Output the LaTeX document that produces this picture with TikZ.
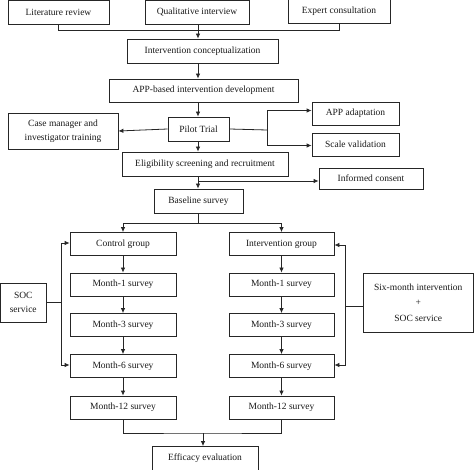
\documentclass[tikz,border=0pt]{standalone}
\usepackage{fontspec}
\setmainfont{Liberation Serif}
\usetikzlibrary{arrows.meta}
\begin{document}
\begin{tikzpicture}[x=1pt,y=-1pt,
  box/.style={draw=black!85,line width=0.8pt,inner sep=1pt,align=center,font=\fontsize{9.5}{14}\selectfont,text=black!90},
  arr/.style={line width=0.8pt,draw=black!85,-{Latex[length=5pt,width=4.5pt]}},
  ln/.style={line width=0.8pt,draw=black!85}]
\useasboundingbox (0,0) rectangle (474,470);
\node[box,minimum width=101pt,minimum height=24pt] (lit) at (58.5,12) {Literature review};
\node[box,minimum width=104pt,minimum height=24pt] (qual) at (197,12) {Qualitative interview};
\node[box,minimum width=102pt,minimum height=24pt] (exp) at (339,11.5) {Expert consultation};
\node[box,minimum width=151pt,minimum height=24pt] (con) at (202.5,51) {Intervention conceptualization};
\node[box,minimum width=189pt,minimum height=23pt] (app) at (203.5,90.5) {APP-based intervention development};
\node[box,minimum width=61pt,minimum height=24pt] (pilot) at (198.5,129) {Pilot Trial};
\node[box,minimum width=110pt,minimum height=36pt] (case) at (63,131) {Case manager and\\investigator training};
\node[box,minimum width=87pt,minimum height=23pt] (appad) at (355.5,113.5) {APP adaptation};
\node[box,minimum width=87pt,minimum height=23pt] (scale) at (355.5,144.5) {Scale validation};
\node[box,minimum width=166pt,minimum height=24pt] (elig) at (205,164) {Eligibility screening and recruitment};
\node[box,minimum width=104pt,minimum height=21pt] (cons) at (371,178.5) {Informed consent};
\node[box,minimum width=89pt,minimum height=24pt] (base) at (198.5,201) {Baseline survey};
\node[box,minimum width=106pt,minimum height=23pt] (cg) at (123,244) {Control group};
\node[box,minimum width=106pt,minimum height=23pt] (c1) at (123,284.5) {Month-1 survey};
\node[box,minimum width=106pt,minimum height=23pt] (c3) at (123,325) {Month-3 survey};
\node[box,minimum width=106pt,minimum height=23pt] (c6) at (123,366) {Month-6 survey};
\node[box,minimum width=106pt,minimum height=23pt] (c12) at (123,407.5) {Month-12 survey};
\node[box,minimum width=105pt,minimum height=23pt] (ig) at (281.5,244) {Intervention group};
\node[box,minimum width=105pt,minimum height=23pt] (i1) at (281.5,284.5) {Month-1 survey};
\node[box,minimum width=105pt,minimum height=23pt] (i3) at (281.5,325) {Month-3 survey};
\node[box,minimum width=105pt,minimum height=23pt] (i6) at (281.5,366) {Month-6 survey};
\node[box,minimum width=105pt,minimum height=23pt] (i12) at (281.5,407.5) {Month-12 survey};
\node[box,minimum width=106pt,minimum height=24pt] (eff) at (205,458.5) {Efficacy evaluation};
\node[box,minimum width=45.5pt,minimum height=39pt] (soc) at (23.25,302.5) {SOC\\service};
\node[box,minimum width=110.5pt,minimum height=59pt,font=\fontsize{9.5}{15.5}\selectfont] (six) at (418.25,302.5) {Six-month intervention\\+\\SOC service};
% top join
\coordinate (j1) at (198,30);
\draw[ln] (lit.south) -- (lit.south |- j1) -- (exp.south |- j1) -- (exp.south);
\draw[arr] (qual.south -| j1) -- (con.north -| j1);
\draw[arr] (con.south -| j1) -- (app.north -| j1);
\draw[arr] (app.south -| j1) -- (pilot.north -| j1);
\draw[arr] (pilot.west) -- (case.east);
\coordinate (j2) at (267,130);
\draw[ln] (pilot.east) -- (j2);
\draw[arr] (j2) |- ([yshift=3pt]appad.west);
\draw[arr] (j2) |- ([yshift=-1pt]scale.west);
\draw[arr] (pilot.south -| j1) -- (elig.north -| j1);
\draw[arr] (elig.south -| j1) -- (base.north -| j1);
\coordinate (j3) at (198,181);
\draw[arr] (j3) -- (j3 -| cons.west);
% groups
\coordinate (j4) at (198,223);
\draw[ln] (base.south -| j4) -- (j4);
\draw[arr] (j4) -| (cg.north);
\draw[arr] (j4) -| (ig.north);
\foreach \a/\b in {cg/c1,c1/c3,c3/c6,c6/c12,ig/i1,i1/i3,i3/i6,i6/i12}{
  \draw[arr] (\a.south) -- (\b.north);
}
\coordinate (j5) at (203,433);
\draw[ln] (c12.south) |- (j5) -| (i12.south);
\draw[arr] (j5) -- (j5 |- eff.north);
% SOC
\coordinate (jl) at (61,302.5);
\draw[ln] (soc.east) -- (jl);
\draw[arr] (jl) |- ([yshift=1pt]cg.west);
\draw[arr] (jl) |- ([yshift=1pt]c6.west);
\coordinate (jr) at (345,306);
\draw[ln] (six.west |- jr) -- (jr);
\draw[arr] (jr) |- ([yshift=-1pt]ig.east);
\draw[arr] (jr) |- ([yshift=1pt]i6.east);
\end{tikzpicture}
\end{document}
